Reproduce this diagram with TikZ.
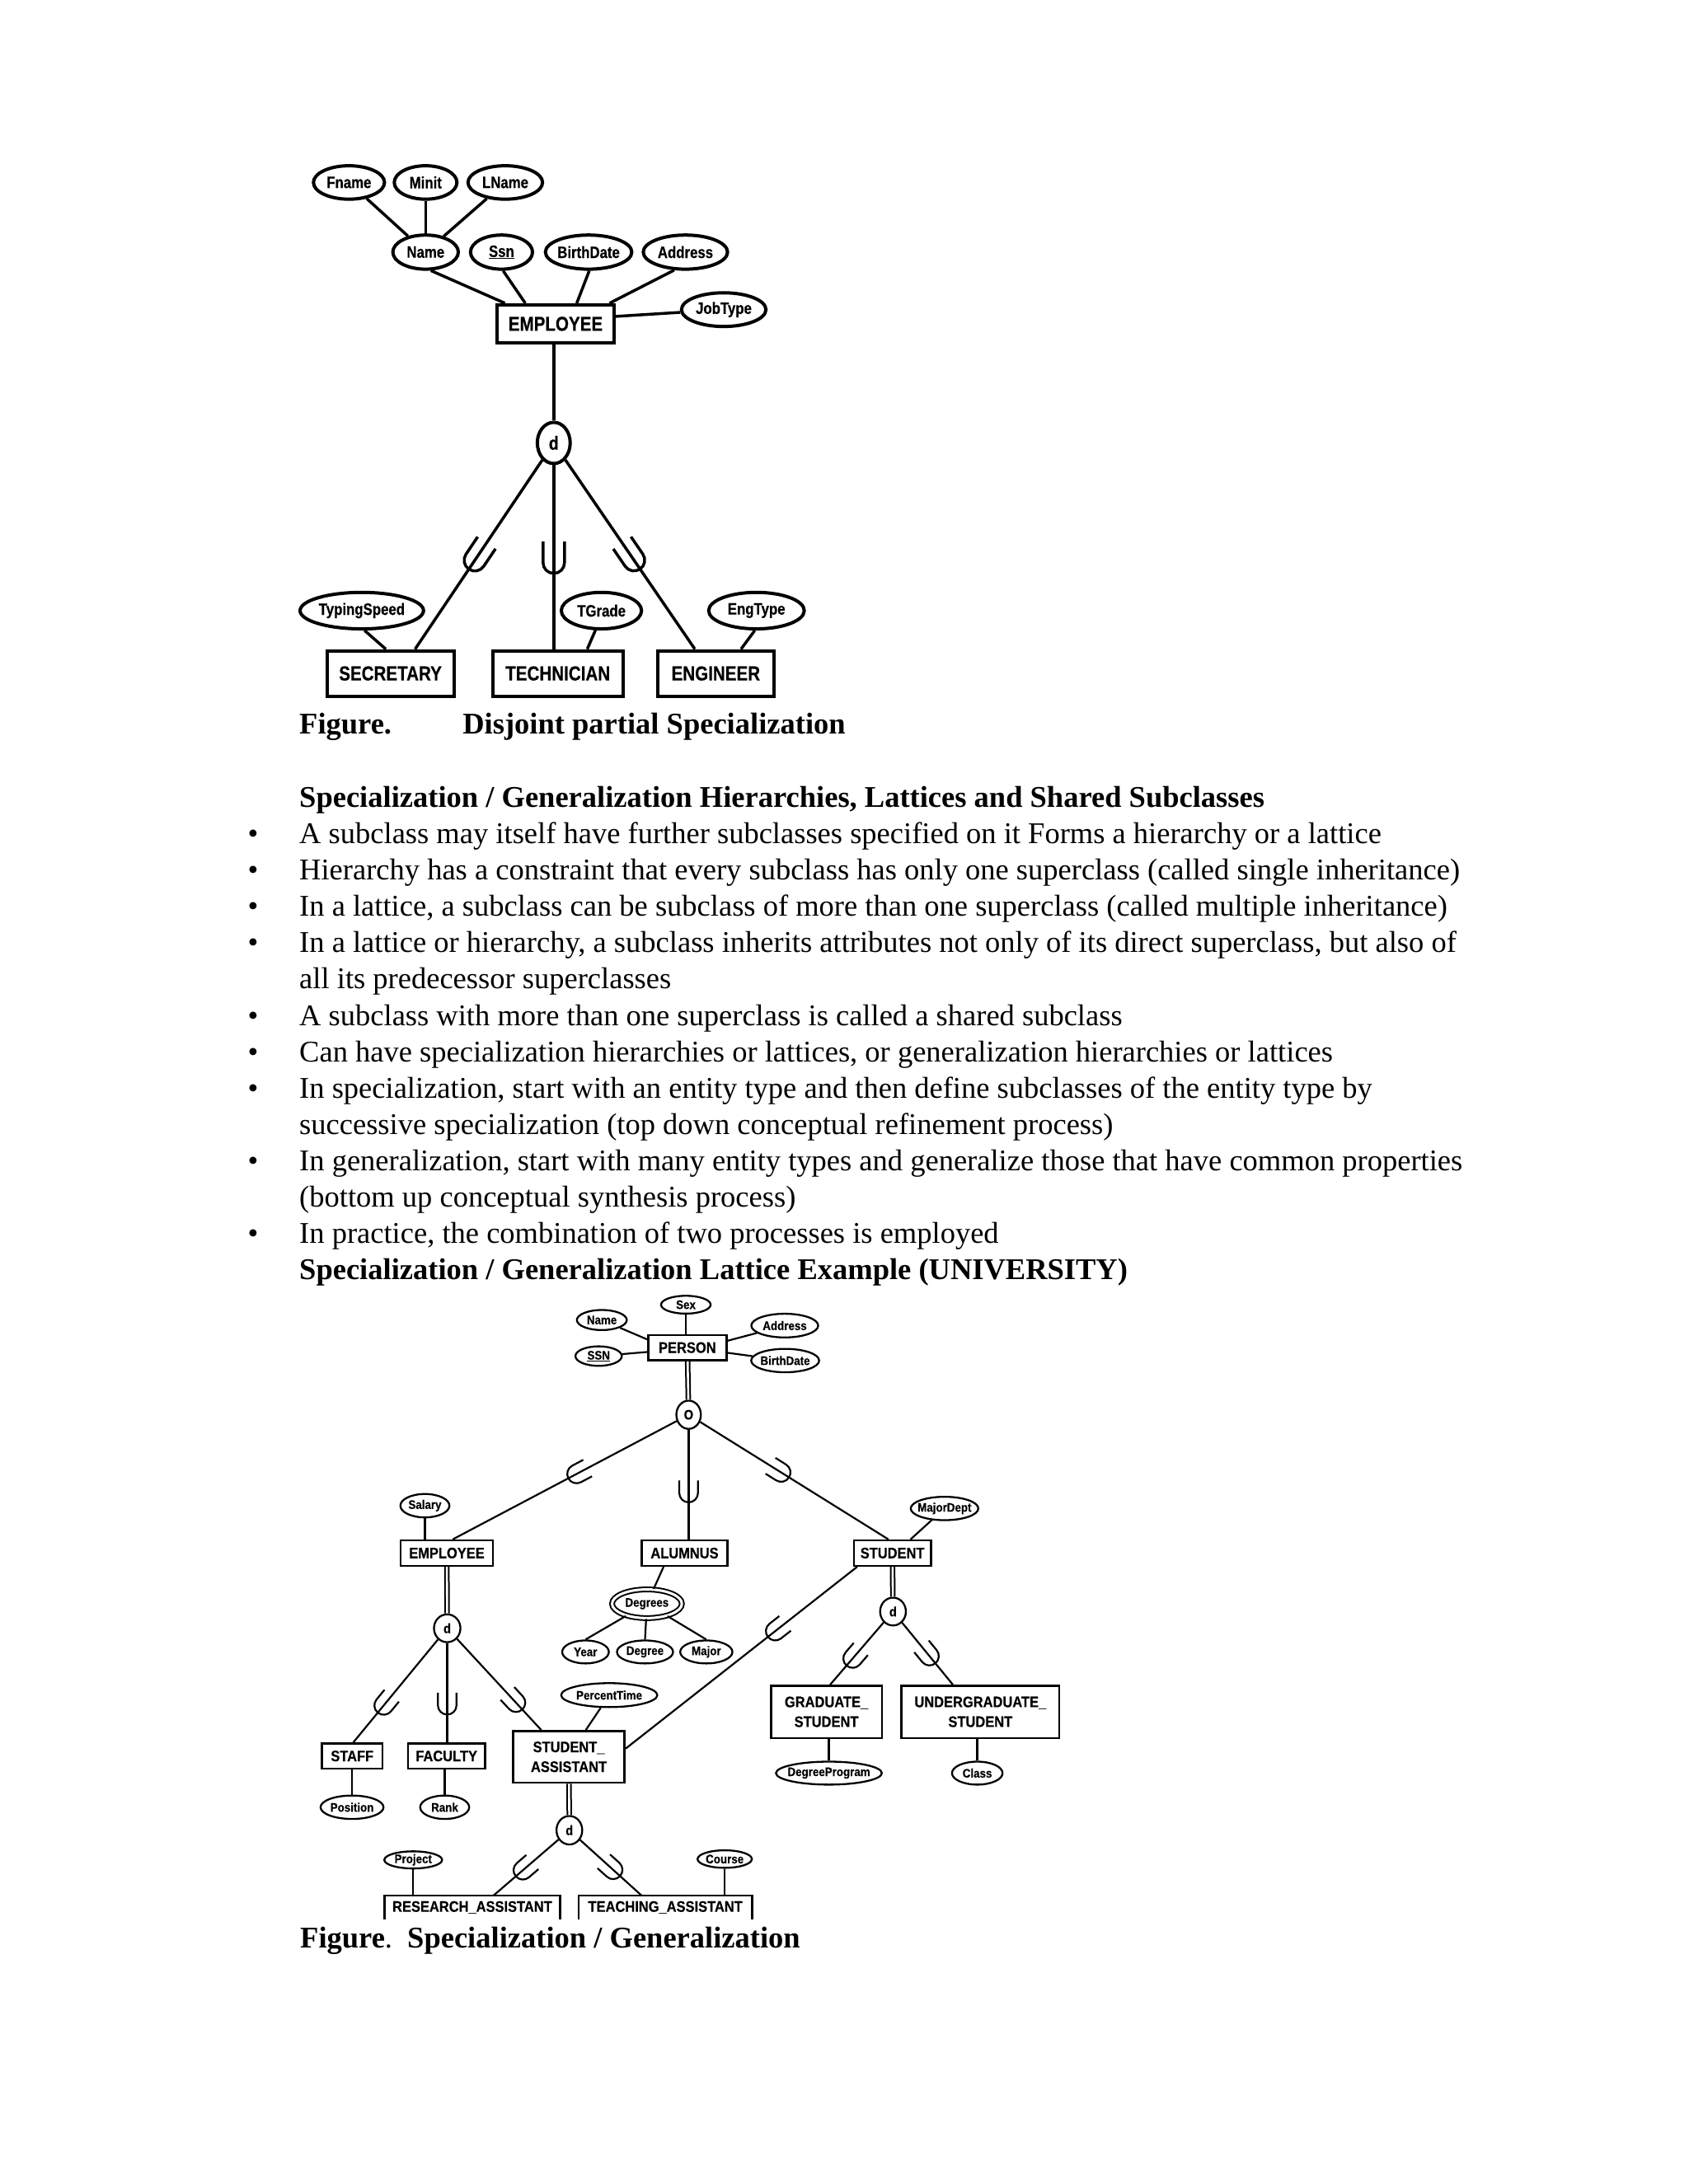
\documentclass[tikz,border=0pt]{standalone}
\usepackage{fontspec}
\setmainfont{Liberation Serif}
\newfontfamily\topf[FakeStretch=0.84,BoldFeatures={FakeBold=0.4}]{Liberation Sans}
\newfontfamily\botf[FakeStretch=0.89,BoldFeatures={FakeBold=0.3}]{Liberation Sans}
\usetikzlibrary{shapes.geometric,decorations.markings,calc}
\newcommand\zl[1]{\hbox to 0pt{\hss#1\hss}}
\def\cupr{7.7}\def\cuph{15.1}\def\cuplw{3.5pt}
\begin{document}
\begin{tikzpicture}[x=1.69pt,y=-1.69pt,
 wh/.style 2 args={minimum width=#1*1.69pt,minimum height=#2*1.69pt},
 tbox/.style={draw,rectangle,line width=4pt,inner sep=0pt,font=\topf\bfseries\fontsize{24.5}{28}\selectfont},
 tatt/.style={draw,ellipse,line width=4pt,inner sep=0pt,font=\topf\bfseries\fontsize{20}{24}\selectfont},
 tln/.style={line width=3.5pt},
 bbox/.style={draw,rectangle,line width=2.5pt,inner sep=0pt,align=center,font=\botf\bfseries\fontsize{18.5}{24}\selectfont},
 batt/.style={draw,ellipse,line width=2.3pt,inner sep=0pt,font=\botf\bfseries\fontsize{15}{18}\selectfont},
 bcirc/.style={draw,ellipse,line width=2.3pt,inner sep=0pt,font=\botf\bfseries\fontsize{16.5}{18}\selectfont},
 bln/.style={line width=2.2pt},
 dbl/.style={double,double distance=2.6pt,line width=2pt},
 cupat/.style={postaction={decorate,decoration={markings,mark=at position #1 with {\draw[line width=\cuplw] (-\cuph,\cupr) -- (0,\cupr) arc[start angle=90,end angle=-90,radius=\cupr] -- (-\cuph,-\cupr);}}}},
 txt/.style={anchor=base west,inner sep=0pt,font=\fontsize{36.5}{40}\selectfont},
 btxt/.style={anchor=base west,inner sep=0pt,font=\bfseries\fontsize{36.5}{40}\selectfont},
 blt/.style={anchor=base,inner sep=0pt,font=\fontsize{36.5}{40}\selectfont},
]
\useasboundingbox[fill=white] (0,0) rectangle (1212,1568);

% ---------- top diagram ----------
\node[tatt,wh={51}{24}] (fname) at (250.5,131) {\zl{Fname}};
\node[tatt,wh={45}{24}] (minit) at (305.5,131) {\zl{Minit}};
\node[tatt,wh={53.5}{24}] (lname) at (362.7,131) {\zl{LName}};
\node[tatt,wh={47}{24.5}] (nameA) at (305.5,181) {\zl{Name}};
\node[tatt,wh={44.5}{24.5}] (ssnA) at (360,181) {\zl{\underline{Ssn}}};
\node[tatt,wh={62}{24.5}] (bdA) at (422.5,181) {\zl{BirthDate}};
\node[tatt,wh={60.5}{24.5}] (addrA) at (492,181) {\zl{Address}};
\node[tbox,wh={84}{27.3}] (empA) at (398.8,232.5) {EMPLOYEE};
\node[tatt,wh={60.6}{24.2}] (jtA) at (519.5,222.3) {\zl{JobType}};
\node[tatt,wh={23.6}{29.6},font=\topf\bfseries\fontsize{23}{26}\selectfont] (dA) at (397.5,318) {\zl{d}};
\node[tatt,wh={88.6}{26.2}] (tsA) at (259.7,438.4) {\zl{TypingSpeed}};
\node[tatt,wh={57.6}{26.2}] (tgA) at (431.7,438.4) {\zl{TGrade}};
\node[tatt,wh={68.6}{26.2}] (etA) at (543,438.4) {\zl{EngType}};
\node[tbox,wh={91.1}{32.6}] (secA) at (280.2,483.5) {SECRETARY};
\node[tbox,wh={93.7}{32.6}] (techA) at (400.4,483.5) {TECHNICIAN};
\node[tbox,wh={83.5}{32.6}] (engA) at (513.8,483.5) {ENGINEER};

\draw[tln] (fname) -- (nameA);
\draw[tln] (minit) -- (nameA);
\draw[tln] (lname) -- (nameA);
\draw[tln] (nameA.-74) -- ($(empA.north west)!0.079!(empA.north east)$);
\draw[tln] (ssnA.-85) -- ($(empA.north west)!0.248!(empA.north east)$);
\draw[tln] (bdA.-88) -- ($(empA.north west)!0.676!(empA.north east)$);
\draw[tln] (addrA.-122) -- ($(empA.north west)!0.949!(empA.north east)$);
\draw[tln] ($(empA.north east)!0.32!(empA.south east)$) -- (jtA);
\draw[tln] (dA) -- (dA |- empA.south);
\draw[tln,cupat=0.53] (dA) -- ($(secA.north west)!0.69!(secA.north east)$);
\draw[tln,cupat=0.53] (dA) -- (techA.north -| dA);
\draw[tln,cupat=0.53] (dA) -- ($(engA.north west)!0.325!(engA.north east)$);
\draw[tln] (tsA.-82) -- ($(secA.north west)!0.465!(secA.north east)$);
\draw[tln] (tgA.-107) -- ($(techA.north west)!0.72!(techA.north east)$);
\draw[tln] (etA.-95) -- ($(engA.north west)!0.711!(engA.north east)$);

% ---------- text ----------
\node[btxt] (cap1a) at (214.8,527) {Figure.};
\node[btxt] (cap1b) at (332,527) {Disjoint partial Specialization};
\node[btxt] (h1) at (214.8,579.5) {Specialization / Generalization Hierarchies, Lattices and Shared Subclasses};
\node[txt] (t0) at (214.8,605.6) {A subclass may itself have further subclasses specified on it Forms a hierarchy or a lattice};
\node[txt] (t1) at (214.8,631.7) {Hierarchy has a constraint that every subclass has only one superclass (called single inheritance)};
\node[txt] (t2) at (214.8,657.8) {In a lattice, a subclass can be subclass of more than one superclass (called multiple inheritance)};
\node[txt] (t3) at (214.8,683.9) {In a lattice or hierarchy, a subclass inherits attributes not only of its direct superclass, but also of};
\node[txt] (t4) at (214.8,710.0) {all its predecessor superclasses};
\node[txt] (t5) at (214.8,736.1) {A subclass with more than one superclass is called a shared subclass};
\node[txt] (t6) at (214.8,762.2) {Can have specialization hierarchies or lattices, or generalization hierarchies or lattices};
\node[txt] (t7) at (214.8,788.3) {In specialization, start with an entity type and then define subclasses of the entity type by};
\node[txt] (t8) at (214.8,814.4) {successive specialization (top down conceptual refinement process)};
\node[txt] (t9) at (214.8,840.5) {In generalization, start with many entity types and generalize those that have common properties};
\node[txt] (t10) at (214.8,866.6) {(bottom up conceptual synthesis process)};
\node[txt] (t11) at (214.8,892.7) {In practice, the combination of two processes is employed};
\node[btxt] (h2) at (214.8,918.8) {Specialization / Generalization Lattice Example (UNIVERSITY)};
\node[blt] (b0) at (181.7,605.6) {\textbullet};
\node[blt] (b1) at (181.7,631.7) {\textbullet};
\node[blt] (b2) at (181.7,657.8) {\textbullet};
\node[blt] (b3) at (181.7,683.9) {\textbullet};
\node[blt] (b5) at (181.7,736.1) {\textbullet};
\node[blt] (b6) at (181.7,762.2) {\textbullet};
\node[blt] (b7) at (181.7,788.3) {\textbullet};
\node[blt] (b9) at (181.7,840.5) {\textbullet};
\node[blt] (b11) at (181.7,892.7) {\textbullet};

% ---------- bottom diagram ----------
\def\cupr{6.7}\def\cuph{9}\def\cuplw{2.2pt}
\node[batt,wh={35.6}{12.8}] (sex) at (492.3,936.7) {\zl{Sex}};
\node[batt,wh={35.8}{14.4}] (nm) at (432,947.7) {\zl{Name}};
\node[batt,wh={33.3}{14}] (ssnB) at (429.7,973.6) {\zl{\underline{SSN}}};
\node[batt,wh={48}{17}] (adrB) at (563.3,951.7) {\zl{Address}};
\node[batt,wh={48.8}{16.8}] (bdB) at (563.6,976.8) {\zl{BirthDate}};
\node[bbox,wh={56.3}{18.2}] (person) at (493.4,967.5) {PERSON};
\node[bcirc,wh={17.6}{20.3}] (oB) at (494.3,1015.7) {\zl{O}};
\node[batt,wh={35.2}{16.8}] (sal) at (305,1081) {\zl{Salary}};
\node[batt,wh={48.5}{16.8}] (mj) at (678,1083) {\zl{MajorDept}};
\node[bbox,wh={66.5}{18.2}] (empB) at (320.7,1115) {EMPLOYEE};
\node[bbox,wh={61.3}{18.2}] (alum) at (491.4,1115) {ALUMNUS};
\node[bbox,wh={55.5}{18.2}] (stu) at (640.6,1115) {STUDENT};
\node[batt,double,double distance=3pt,line width=2pt,wh={50.1}{20.6}] (degs) at (464.4,1151.4) {\zl{Degrees}};
\node[batt,wh={33.5}{16.5}] (year) at (420.3,1186) {\zl{Year}};
\node[batt,wh={40.3}{16.5}] (degree) at (463,1186) {\zl{Degree}};
\node[batt,wh={37.5}{16.5}] (major) at (507,1186) {\zl{Major}};
\node[bcirc,wh={19}{20}] (d2) at (321,1169) {\zl{d}};
\node[bcirc,wh={18.5}{20}] (d3) at (641,1157) {\zl{d}};
\node[bbox,wh={43.2}{17.9}] (staff) at (252.8,1260.7) {STAFF};
\node[bbox,wh={55.5}{17.9}] (fac) at (320.5,1260.7) {FACULTY};
\node[bbox,wh={80.1}{37.1}] (sa) at (408.3,1261.3) {STUDENT\_\\ASSISTANT};
\node[batt,wh={69}{17.2}] (pt) at (437.3,1217) {\zl{PercentTime}};
\node[bbox,wh={79.6}{37.5}] (grad) at (593.2,1229) {GRADUATE\_\\STUDENT};
\node[bbox,wh={113.1}{37.5}] (ug) at (703.7,1229) {UNDERGRADUATE\_\\STUDENT};
\node[batt,wh={76}{16.5}] (dp) at (595,1273) {\zl{DegreeProgram}};
\node[batt,wh={36.3}{16.5}] (cls) at (701.5,1273) {\zl{Class}};
\node[batt,wh={45.2}{16.8}] (pos) at (252.7,1297.5) {\zl{Position}};
\node[batt,wh={35.2}{16.8}] (rank) at (319.2,1297.5) {\zl{Rank}};
\node[bcirc,wh={18.5}{20.5}] (d4) at (408.7,1314) {\zl{d}};
\node[batt,wh={41.5}{12.3}] (proj) at (296.6,1335.3) {\zl{Project}};
\node[batt,wh={39}{12.6}] (course) at (520.2,1334.7) {\zl{Course}};
\node[rectangle,inner sep=0pt,outer sep=0pt,wh={126}{17.3},font=\botf\bfseries\fontsize{18.5}{24}\selectfont] (ra) at (339,1369.4) {RESEARCH\_ASSISTANT};
\node[rectangle,inner sep=0pt,outer sep=0pt,wh={124.6}{17.3},font=\botf\bfseries\fontsize{18.5}{24}\selectfont] (ta) at (477.6,1369.4) {TEACHING\_ASSISTANT};
\draw[line width=2.5pt] (ra.south west) -- (ra.north west) -- (ra.north east) -- (ra.south east);
\draw[line width=2.5pt] (ta.south west) -- (ta.north west) -- (ta.north east) -- (ta.south east);

\draw[bln] (sex) -- (sex |- person.north);
\draw[bln] (nm) -- ($(person.north west)!0.2!(person.south west)$);
\draw[bln] (ssnB) -- ($(person.north west)!0.66!(person.south west)$);
\draw[bln] (adrB) -- ($(person.north east)!0.25!(person.south east)$);
\draw[bln] (bdB) -- ($(person.north east)!0.69!(person.south east)$);
\draw[dbl] (person) -- (oB);
\draw[bln,cupat=0.447] (oB) -- ($(empB.north west)!0.563!(empB.north east)$);
\draw[bln,cupat=0.577] (oB) -- (alum.north -| oB);
\draw[bln,cupat=0.43] (oB) -- ($(stu.north west)!0.449!(stu.north east)$);
\draw[bln] (sal) -- (sal |- empB.north);
\draw[bln] (mj) -- ($(stu.north west)!0.728!(stu.north east)$);
\draw[bln] ($(alum.south west)!0.26!(alum.south east)$) -- (degs);
\draw[bln] (degs) -- (year.north);
\draw[bln] (degs) -- (degree.north);
\draw[bln] (degs) -- (major.north);
\draw[dbl] (empB) -- (d2);
\draw[bln,cupat=0.64] (d2) -- ($(staff.north west)!0.517!(staff.north east)$);
\draw[bln,cupat=0.625] (d2) -- (fac.north -| d2);
\draw[bln,cupat=0.7] (d2) -- ($(sa.north west)!0.257!(sa.north east)$);
\draw[bln] (pt) -- ($(sa.north west)!0.65!(sa.north east)$);
\draw[bln] (pos) -- (pos |- staff.south);
\draw[bln] (rank) -- (rank |- fac.south);
\draw[bln,cupat=0.354] ($(stu.south west)!0.056!(stu.south east)$) -- ($(sa.north east)!0.347!(sa.south east)$);
\draw[dbl] (stu) -- (d3);
\draw[bln,cupat=0.58] (d3) -- ($(grad.north west)!0.533!(grad.north east)$);
\draw[bln,cupat=0.54] (d3) -- ($(ug.north west)!0.328!(ug.north east)$);
\draw[bln] (dp) -- (dp |- grad.south);
\draw[bln] (cls) -- (cls |- ug.south);
\draw[dbl] (sa) -- (d4);
\draw[bln,cupat=0.55] (d4) -- ($(ra.north west)!0.622!(ra.north east)$);
\draw[bln,cupat=0.54] (d4) -- ($(ta.north west)!0.362!(ta.north east)$);
\draw[bln] (proj) -- (proj |- ra.north);
\draw[bln] (course) -- (course |- ta.north);

\node[btxt] (cap2a) at (215.4,1398.5) {Figure\textmd{.}};
\node[btxt] (cap2b) at (292.3,1398.5) {Specialization / Generalization};
\end{tikzpicture}
\end{document}
